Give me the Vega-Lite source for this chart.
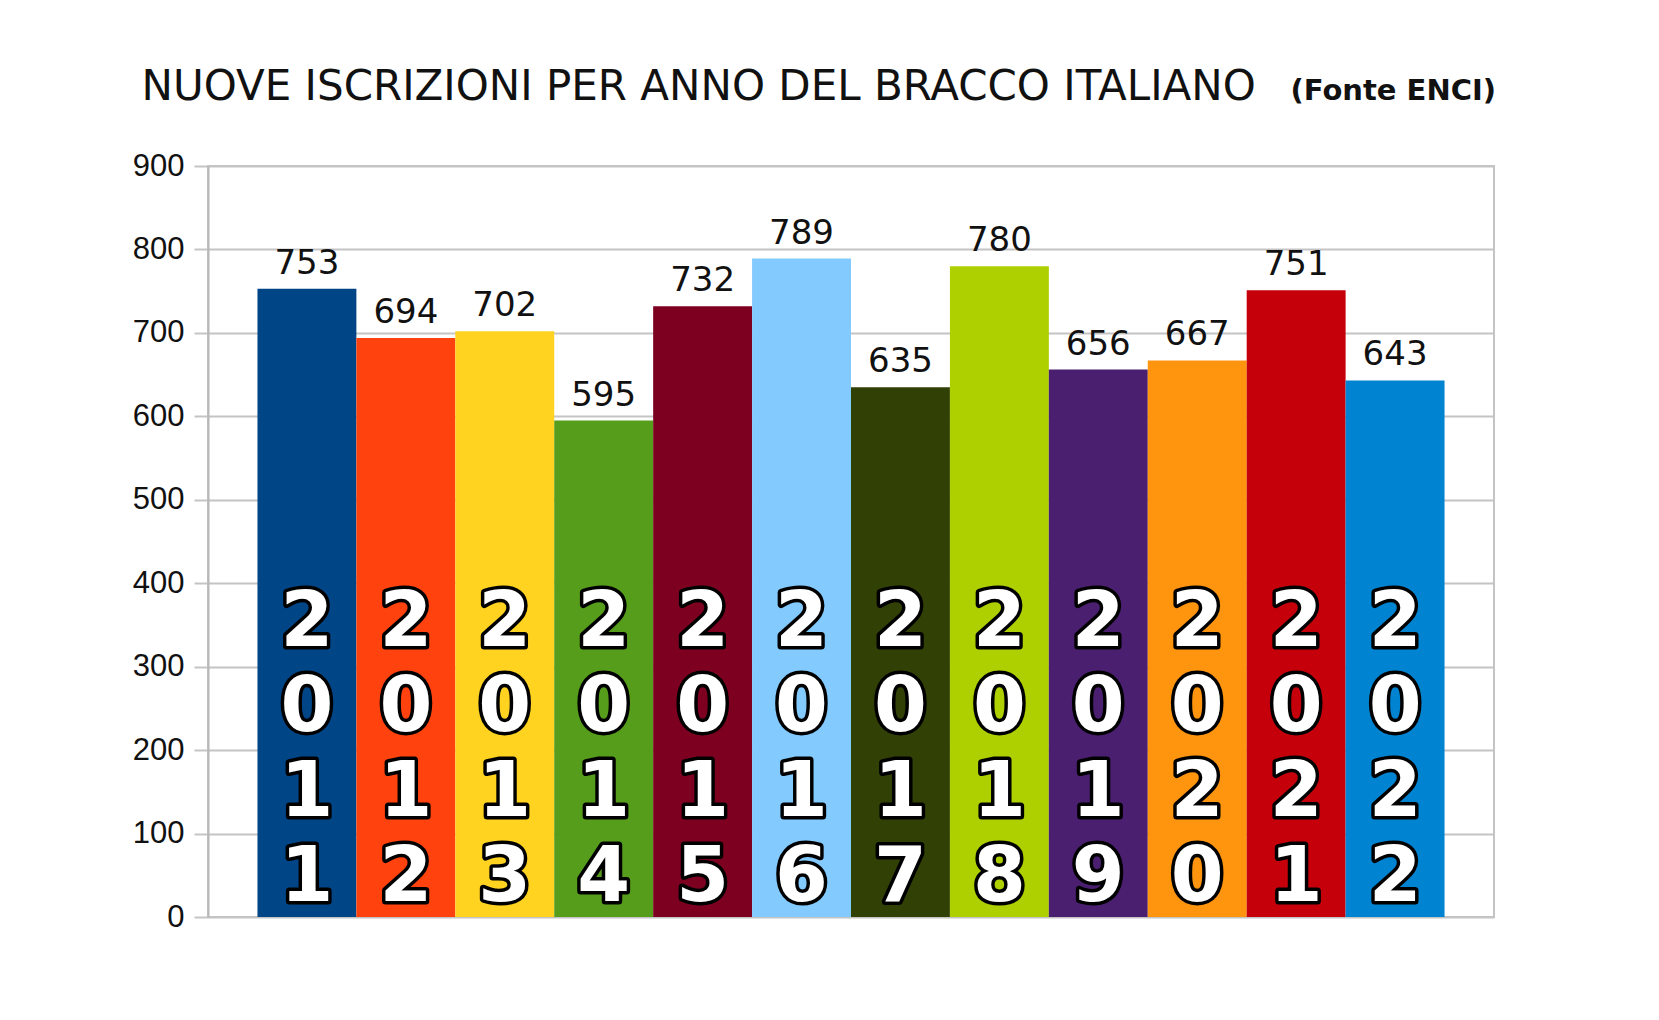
{
  "$schema": "https://vega.github.io/schema/vega-lite/v6.json",
  "description": "Nuove iscrizioni per anno del Bracco Italiano (Fonte ENCI)",
  "width": 1286,
  "height": 751,
  "autosize": {"type": "none"},
  "padding": {"left": 208, "top": 166, "right": 165, "bottom": 103},
  "background": "white",
  "config": {
    "view": {"stroke": "#c4c4c4", "strokeWidth": 2}
  },
  "data": {
    "values": [
      {"anno": "2011", "iscrizioni": 753, "cifre": ["2", "0", "1", "1"]},
      {"anno": "2012", "iscrizioni": 694, "cifre": ["2", "0", "1", "2"]},
      {"anno": "2013", "iscrizioni": 702, "cifre": ["2", "0", "1", "3"]},
      {"anno": "2014", "iscrizioni": 595, "cifre": ["2", "0", "1", "4"]},
      {"anno": "2015", "iscrizioni": 732, "cifre": ["2", "0", "1", "5"]},
      {"anno": "2016", "iscrizioni": 789, "cifre": ["2", "0", "1", "6"]},
      {"anno": "2017", "iscrizioni": 635, "cifre": ["2", "0", "1", "7"]},
      {"anno": "2018", "iscrizioni": 780, "cifre": ["2", "0", "1", "8"]},
      {"anno": "2019", "iscrizioni": 656, "cifre": ["2", "0", "1", "9"]},
      {"anno": "2020", "iscrizioni": 667, "cifre": ["2", "0", "2", "0"]},
      {"anno": "2021", "iscrizioni": 751, "cifre": ["2", "0", "2", "1"]},
      {"anno": "2022", "iscrizioni": 643, "cifre": ["2", "0", "2", "2"]}
    ]
  },
  "encoding": {
    "x": {
      "field": "anno",
      "type": "nominal",
      "sort": null,
      "scale": {"paddingInner": 0, "paddingOuter": 0.5},
      "axis": {
        "title": "(Fonte ENCI)",
        "labels": false,
        "ticks": false,
        "domain": false,
        "grid": false,
        "titleFont": "DejaVu Sans",
        "titleFontSize": 29,
        "titleFontWeight": "bold",
        "titleColor": "#111111",
        "titleX": 1082,
        "titleY": -818,
        "titleAlign": "left",
        "titleBaseline": "alphabetic"
      }
    },
    "y": {
      "field": "iscrizioni",
      "type": "quantitative",
      "scale": {"domain": [0, 900], "nice": false},
      "axis": {
        "title": "NUOVE ISCRIZIONI PER ANNO DEL BRACCO ITALIANO",
        "titleAngle": 0,
        "titleX": -67,
        "titleY": -67,
        "titleAlign": "left",
        "titleBaseline": "alphabetic",
        "titleFont": "DejaVu Sans",
        "titleFontSize": 42,
        "titleFontWeight": "normal",
        "titleColor": "#111111",
        "values": [0, 100, 200, 300, 400, 500, 600, 700, 800, 900],
        "format": "d",
        "grid": true,
        "gridColor": "#c4c4c4",
        "gridWidth": 2,
        "domainColor": "#b8b8b8",
        "domainWidth": 2,
        "tickColor": "#c4c4c4",
        "tickWidth": 2,
        "tickSize": 14,
        "labelFont": "Liberation Sans",
        "labelFontSize": 31,
        "labelColor": "#111111",
        "labelPadding": 10
      }
    }
  },
  "layer": [
    {
      "mark": {"type": "bar"},
      "encoding": {
        "color": {
          "field": "anno",
          "type": "nominal",
          "scale": {
            "range": ["#004586", "#ff420e", "#ffd320", "#579d1c", "#7e0021", "#83caff", "#314004", "#aecf00", "#4b1f6f", "#ff950e", "#c5000b", "#0084d1"]
          },
          "legend": null
        }
      }
    },
    {
      "mark": {"type": "text", "baseline": "alphabetic", "dy": -15, "font": "DejaVu Sans", "fontSize": 34, "color": "#111111"},
      "encoding": {
        "text": {"field": "iscrizioni", "type": "quantitative"}
      }
    },
    {
      "mark": {"type": "text", "baseline": "bottom", "dy": -255, "font": "DejaVu Sans", "fontWeight": "bold", "fontSize": 76, "lineHeight": 85, "fill": "white", "stroke": "black", "strokeWidth": 7, "strokeJoin": "round"},
      "encoding": {
        "y": {"datum": 0, "type": "quantitative"},
        "text": {"field": "cifre", "type": "nominal"}
      }
    },
    {
      "mark": {"type": "text", "baseline": "bottom", "dy": -255, "font": "DejaVu Sans", "fontWeight": "bold", "fontSize": 76, "lineHeight": 85, "fill": "white"},
      "encoding": {
        "y": {"datum": 0, "type": "quantitative"},
        "text": {"field": "cifre", "type": "nominal"}
      }
    }
  ]
}
